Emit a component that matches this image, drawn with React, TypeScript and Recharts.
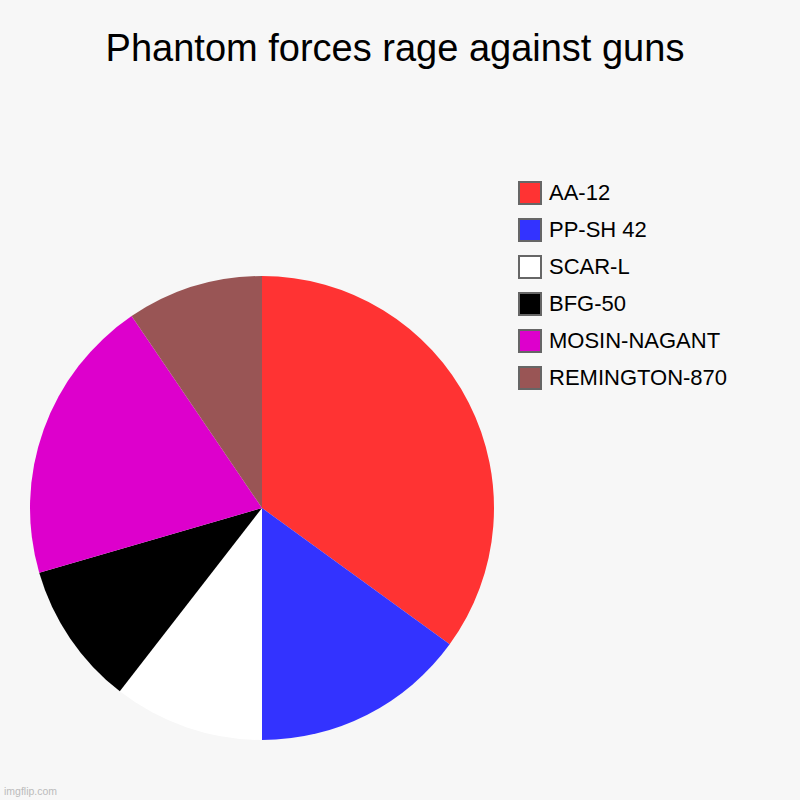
import React from "react";
import { PieChart, Pie, Cell, Legend } from "recharts";

const categories = ["AA-12", "PP-SH 42", "SCAR-L", "BFG-50", "MOSIN-NAGANT", "REMINGTON-870"];
const values = [35, 15, 10.5, 10, 20, 9.5];
const colors = ["#ff3333", "#3333ff", "#ffffff", "#000000", "#dd00cc", "#995555"];
const title = "Phantom forces rage against guns";

const data = categories.map((name, i) => ({ name, value: values[i] }));

const FONT = '"Liberation Sans", Arial, Helvetica, sans-serif';

const renderLegend = () => {
  return (
    <div style={{ fontFamily: FONT }}>
      {categories.map((name, i) => (
        <div
          key={i}
          style={{ display: "flex", alignItems: "center", height: 24, marginBottom: 13 }}
        >
          <div
            style={{
              width: 24,
              height: 24,
              boxSizing: "border-box",
              border: "2px solid #666666",
              background: colors[i],
              marginRight: 7,
            }}
          />
          <span style={{ fontSize: 22, color: "#000", lineHeight: "24px", whiteSpace: "nowrap" }}>
            {name}
          </span>
        </div>
      ))}
    </div>
  );
};

export default function App() {
  return (
    <div
      style={{
        position: "absolute",
        left: 0,
        top: 0,
        width: 800,
        height: 800,
        background: "#f7f7f7",
        overflow: "hidden",
      }}
    >
      <PieChart width={800} height={800} margin={{ top: 0, right: 0, bottom: 0, left: 0 }}>
        <text
          x={395}
          y={61}
          textAnchor="middle"
          style={{ fontFamily: FONT, fontSize: 38, fill: "#000" }}
        >
          {title}
        </text>
        <Pie
          data={data}
          dataKey="value"
          nameKey="name"
          cx={262}
          cy={508}
          outerRadius={232}
          startAngle={90}
          endAngle={-270}
          stroke="none"
          isAnimationActive={false}
          labelLine={false}
        >
          {data.map((_, i) => (
            <Cell key={i} fill={colors[i]} stroke="none" />
          ))}
        </Pie>
        <Legend
          layout="vertical"
          align="right"
          verticalAlign="top"
          content={renderLegend}
          wrapperStyle={{ left: 518, top: 181, width: 270 }}
        />
        <text x={4} y={795} style={{ fontFamily: FONT, fontSize: 10.5, fill: "#bbbbbb" }}>
          imgflip.com
        </text>
      </PieChart>
    </div>
  );
}
